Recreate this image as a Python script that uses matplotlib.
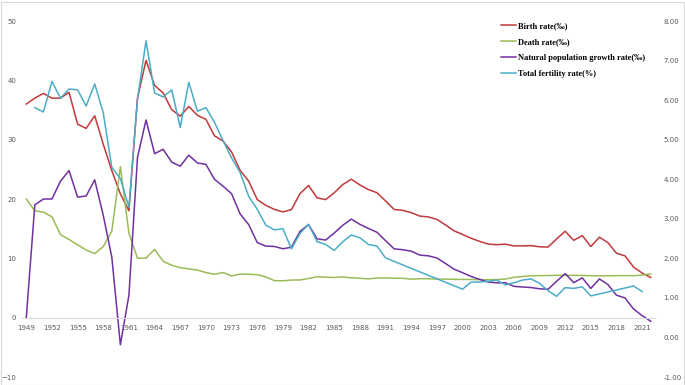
import matplotlib
matplotlib.use("Agg")
import matplotlib.pyplot as plt
import numpy as np

# ---- data (China, 1949-2022) ----
years = list(range(1949, 2023))

birth_rate = [36.00, 37.00, 37.80, 37.00, 37.00, 37.97, 32.60, 31.90, 34.03, 29.22,
              24.78, 20.86, 18.02, 37.01, 43.37, 39.14, 37.88, 35.05, 33.96, 35.59,
              34.11, 33.43, 30.65, 29.77, 27.93, 24.82, 23.01, 19.91, 18.93, 18.25,
              17.82, 18.21, 20.91, 22.28, 20.19, 19.90, 21.04, 22.43, 23.33, 22.37,
              21.58, 21.06, 19.68, 18.24, 18.09, 17.70, 17.12, 16.98, 16.57, 15.64,
              14.64, 14.03, 13.38, 12.86, 12.41, 12.29, 12.40, 12.09, 12.10, 12.14,
              11.95, 11.90, 13.27, 14.57, 13.03, 13.83, 11.99, 13.57, 12.64, 10.86,
              10.41, 8.52, 7.52, 6.77]

death_rate = [20.00, 18.00, 17.80, 17.00, 14.00, 13.18, 12.28, 11.40, 10.80, 11.98,
              14.59, 25.43, 14.24, 10.02, 10.04, 11.50, 9.50, 8.83, 8.43, 8.21,
              8.03, 7.60, 7.32, 7.61, 7.04, 7.34, 7.32, 7.25, 6.87, 6.25,
              6.21, 6.34, 6.36, 6.60, 6.90, 6.82, 6.78, 6.86, 6.72, 6.64,
              6.54, 6.67, 6.70, 6.64, 6.64, 6.49, 6.57, 6.56, 6.51, 6.50,
              6.46, 6.45, 6.43, 6.41, 6.40, 6.42, 6.51, 6.81, 6.93, 7.06,
              7.08, 7.11, 7.14, 7.13, 7.13, 7.12, 7.07, 7.04, 7.06, 7.08,
              7.09, 7.07, 7.18, 7.37]

natural_growth = [0.00, 19.00, 20.00, 20.00, 23.00, 24.79, 20.32, 20.50, 23.23, 17.24,
                  10.19, -4.57, 3.78, 26.99, 33.33, 27.64, 28.38, 26.22, 25.53, 27.38,
                  26.08, 25.83, 23.33, 22.16, 20.89, 17.48, 15.69, 12.66, 12.06, 12.00,
                  11.61, 11.87, 14.55, 15.68, 13.29, 13.08, 14.26, 15.57, 16.61, 15.73,
                  15.04, 14.39, 12.98, 11.60, 11.45, 11.21, 10.55, 10.42, 10.06, 9.14,
                  8.18, 7.58, 6.95, 6.45, 6.01, 5.87, 5.89, 5.28, 5.17, 5.08,
                  4.87, 4.79, 6.13, 7.43, 5.90, 6.71, 4.93, 6.53, 5.58, 3.78,
                  3.32, 1.45, 0.34, -0.60]

# total fertility rate, only the years that have a value
tfr_years = list(range(1950, 1992)) + list(range(2000, 2016)) + [2020, 2021]
tfr_values = [5.81, 5.70, 6.47, 6.05, 6.28, 6.26, 5.85, 6.41, 5.68, 4.30,
              4.02, 3.29, 6.02, 7.50, 6.18, 6.08, 6.26, 5.31, 6.45, 5.72,
              5.81, 5.44, 4.98, 4.54, 4.17, 3.57, 3.24, 2.84, 2.72, 2.75,
              2.24, 2.63, 2.86, 2.42, 2.35, 2.20, 2.42, 2.59, 2.52, 2.35,
              2.31, 2.01,
              1.22, 1.40, 1.40, 1.42, 1.45, 1.33, 1.38, 1.45, 1.48, 1.37,
              1.18, 1.04, 1.26, 1.24, 1.28, 1.05,
              1.30, 1.16]

xtick_years = list(range(1949, 2022, 3))
left_ticks = [-10, 0, 10, 20, 30, 40, 50]
right_ticks = [-1, 0, 1, 2, 3, 4, 5, 6, 7, 8]

labels = ["Birth rate(\u2030)", "Death rate(\u2030)",
          "Natural population growth rate(\u2030)", "Total fertility rate(%)"]
colors = ["#C0393B", "#9BBB59", "#7030A0", "#4BACC6"]

# ---- figure ----
W, H = 685, 385
fig = plt.figure(figsize=(W / 100, H / 100), dpi=100)
ax = fig.add_axes([22 / W, 8 / H, 633 / W, 356 / H])
ax2 = ax.twinx()

lw = 1.1
l1, = ax.plot(years, birth_rate, color=colors[0], lw=lw)
l2, = ax.plot(years, death_rate, color=colors[1], lw=lw)
l3, = ax.plot(years, natural_growth, color=colors[2], lw=lw)
l4, = ax2.plot(tfr_years, tfr_values, color=colors[3], lw=lw)

ax.set_xlim(1948.5, 2022.5)
ax.set_ylim(-10, 50)
ax2.set_ylim(-1, 8)

for a in (ax, ax2):
    for s in a.spines.values():
        s.set_visible(False)
    a.set_facecolor("none")

# category axis sits on the zero line
ax.spines["bottom"].set_visible(True)
ax.spines["bottom"].set_position(("data", 0))
ax.spines["bottom"].set_color("#D9D9D9")
ax.spines["bottom"].set_linewidth(0.8)

tick_style = dict(labelsize=5, labelcolor="#595959", length=0)
ax.set_xticks(xtick_years)
ax.tick_params(axis="x", pad=5, **tick_style)
ax.set_yticks(left_ticks)
ax.tick_params(axis="y", pad=4, **tick_style)
ax2.set_yticks(right_ticks)
ax2.set_yticklabels([f"{v:.2f}" for v in right_ticks])
ax2.tick_params(axis="y", pad=6, **tick_style)

fig.legend([l1, l2, l3, l4], labels, loc="upper left",
           bbox_to_anchor=(501 / W, 1 - 22 / H), frameon=False,
           prop={"family": "Liberation Serif", "weight": "bold", "size": 6.0},
           handlelength=1.8, handletextpad=0.2, labelspacing=0.95,
           borderpad=0, borderaxespad=0)

# light chart border
fig.add_artist(plt.Rectangle((0.5 / W, 0.5 / H), 1 - 2 / W, 1 - 2 / H,
                             transform=fig.transFigure, fill=False,
                             ec="#D9D9D9", lw=0.8))

fig.savefig("out.png", dpi=100)
